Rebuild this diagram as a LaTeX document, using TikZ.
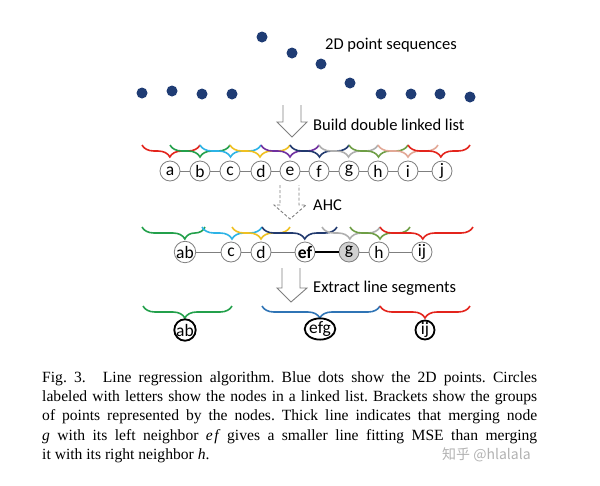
\documentclass[tikz,border=0pt]{standalone}
\usepackage{fontspec}
\setmainfont{Liberation Serif}
\newfontfamily\diagfont{Carlito}
\newfontfamily\cjkfont{Noto Sans CJK SC}
\usetikzlibrary{decorations.pathreplacing,shapes.geometric}
\definecolor{cred}{HTML}{E3241C}
\definecolor{cgreen}{HTML}{23A04B}
\definecolor{ccyan}{HTML}{2DB3E6}
\definecolor{cyellow}{HTML}{EFC021}
\definecolor{cpurple}{HTML}{7030A0}
\definecolor{cnavy}{HTML}{223A6E}
\definecolor{cgray}{HTML}{AFAFAF}
\definecolor{colive}{HTML}{6E9E45}
\definecolor{csalmon}{HTML}{E2A896}
\definecolor{cblue}{HTML}{2F74B5}
\definecolor{dotblue}{HTML}{1F3C74}
\definecolor{edgegray}{HTML}{7F7F7F}
\frenchspacing
\begin{document}
\begin{tikzpicture}[x=1pt,y=-1pt,
  br/.style={decorate, decoration={brace, mirror, amplitude=12pt, aspect=#1}, line width=1.6pt},
  br/.default=0.5,
  pt/.style={circle, fill=dotblue, inner sep=0pt, minimum size=11pt},
  lnode/.style={circle, draw=edgegray, line width=0.8pt, fill=white, inner sep=0pt, minimum size=20pt, font=\diagfont\fontsize{17.5}{17.5}\selectfont},
  snode/.style={circle, draw=black, line width=1.8pt, fill=white, inner sep=0pt, minimum size=19pt, font=\diagfont\fontsize{17.5}{17.5}\selectfont},
  link/.style={draw=edgegray, line width=0.8pt},
  blockarrow/.style={draw=edgegray, line width=0.9pt, line join=miter},
  lbl/.style={anchor=west, font=\diagfont\fontsize{16.5}{18}\selectfont, inner sep=0pt},
  captxt/.style={anchor=base west, inner sep=0pt, font=\fontsize{15.6}{19}\selectfont}
]
\useasboundingbox (0,0) rectangle (600,485);

% 2D points
\foreach \i/\x/\y in {1/142/93,2/172/91,3/202/94,4/232/94,5/262/37,6/292/53,7/321/64,8/350/83,9/381/94,10/411/94,11/440/94,12/470/97}
  \node[pt] (p\i) at (\x,\y) {};
\node[lbl] (t1) at (325,45) {2D point sequences};

% arrow 1
\draw[blockarrow] (283,105) -- (283,122) -- (277,122) -- (292,137) -- (307,122) -- (301,122) -- (301,105);
\node[lbl] (t2) at (313,125) {Build double linked list};

% row 1 braces
\draw[br=0.48, cred]   (142,145) -- (200,145);
\draw[br, cgreen]      (170,145) -- (230,145);
\draw[br, ccyan]       (200,145) -- (261,145);
\draw[br, cyellow]     (230,145) -- (290,145);
\draw[br, cpurple]     (261,145) -- (319,145);
\draw[br, cnavy]       (290,145) -- (349,145);
\draw[br, cgray]       (319,145) -- (378,145);
\draw[br, colive]      (349,145) -- (408,145);
\draw[br, csalmon]     (378,145) -- (438,145);
\draw[br=0.53, cred]   (408,145) -- (470,145);

% row 1 nodes
\foreach \n/\x in {a/170,b/200,c/230,d/261,e/290,f/319,g/349,h/378,i/408,j/442}
  \node[lnode] (r1\n) at (\x,171) {\n};
\foreach \u/\v in {a/b,b/c,c/d,d/e,e/f,f/g,g/h,h/i,i/j}
  \draw[link] (r1\u) -- (r1\v);

% arrow 2 (dashed)
\draw[blockarrow, dash pattern=on 3pt off 2pt] (280,185) -- (280,205) -- (274,205) -- (290,219) -- (306,205) -- (299,205) -- (299,185);
\node[lbl] (t3) at (313,205) {AHC};

% row 2 braces
\draw[br=0.68, cgreen] (142,227) -- (205,227);
\draw[br, ccyan]       (202,227) -- (262,227);
\draw[br, cyellow]     (232,227) -- (290,227);
\draw[br=0.57, cnavy]  (262,227) -- (337,227);
\draw[br=0.48, cgray]  (322,227) -- (380,227);
\draw[br, colive]      (350,227) -- (410,227);
\draw[br=0.46, cred]   (380,227) -- (473,227);

% row 2 nodes
\node[lnode] (r2ab) at (185,252) {ab};
\node[lnode] (r2c) at (231,252) {c};
\node[lnode] (r2d) at (261,252) {d};
\node[lnode, font=\diagfont\bfseries\fontsize{17.5}{17.5}\selectfont] (r2ef) at (305,252) {ef};
\node[lnode, fill=black!18] (r2g) at (349,252) {g};
\node[lnode] (r2h) at (379,252) {h};
\node[lnode] (r2ij) at (422,252) {ij};
\draw[link] (r2ab) -- (r2c);
\draw[link] (r2c) -- (r2d);
\draw[link] (r2d) -- (r2ef);
\draw[line width=2.6pt, black] (r2ef) -- (r2g);
\draw[link] (r2g) -- (r2h);
\draw[link] (r2h) -- (r2ij);

% arrow 3
\draw[blockarrow] (282,268) -- (282,288) -- (277,288) -- (291,302) -- (307,288) -- (300,288) -- (300,268);
\node[lbl] (t4) at (313,288) {Extract line segments};

% row 3
\draw[br=0.47, cgreen] (143,306) -- (232,306);
\draw[br=0.49, cblue]  (262,306) -- (380,306);
\draw[br=0.5, cred]    (380,306) -- (470,306);
\node[snode] (r3ab) at (185,330) {ab};
\node[snode, ellipse, minimum width=30pt, minimum height=18pt] (r3efg) at (320,329) {efg};
\node[snode] (r3ij) at (425,330) {ij};

% caption
\node[captxt] (c1) at (42,382) {\makebox[495pt][s]{Fig.~3.\hspace{1.1em}Line regression algorithm. Blue dots show the 2D points. Circles}};
\node[captxt] (c2) at (42,401) {\makebox[495pt][s]{labeled with letters show the nodes in a linked list. Brackets show the groups}};
\node[captxt] (c3) at (42,420.5) {\makebox[495pt][s]{of points represented by the nodes. Thick line indicates that merging node}};
\node[captxt] (c4) at (42,440) {\makebox[495pt][s]{\textit{g} with its left neighbor \textit{e\kern1.5pt f\kern1pt} gives a smaller line fitting MSE than merging}};
\node[captxt] (c5) at (42,459) {it with its right neighbor \textit{h}.};

% watermark
\node[anchor=base west, inner sep=0pt, text=black!30, font=\cjkfont\fontsize{14}{16}\selectfont] (wm) at (442,459) {知乎 @hlalala};
\end{tikzpicture}
\end{document}
